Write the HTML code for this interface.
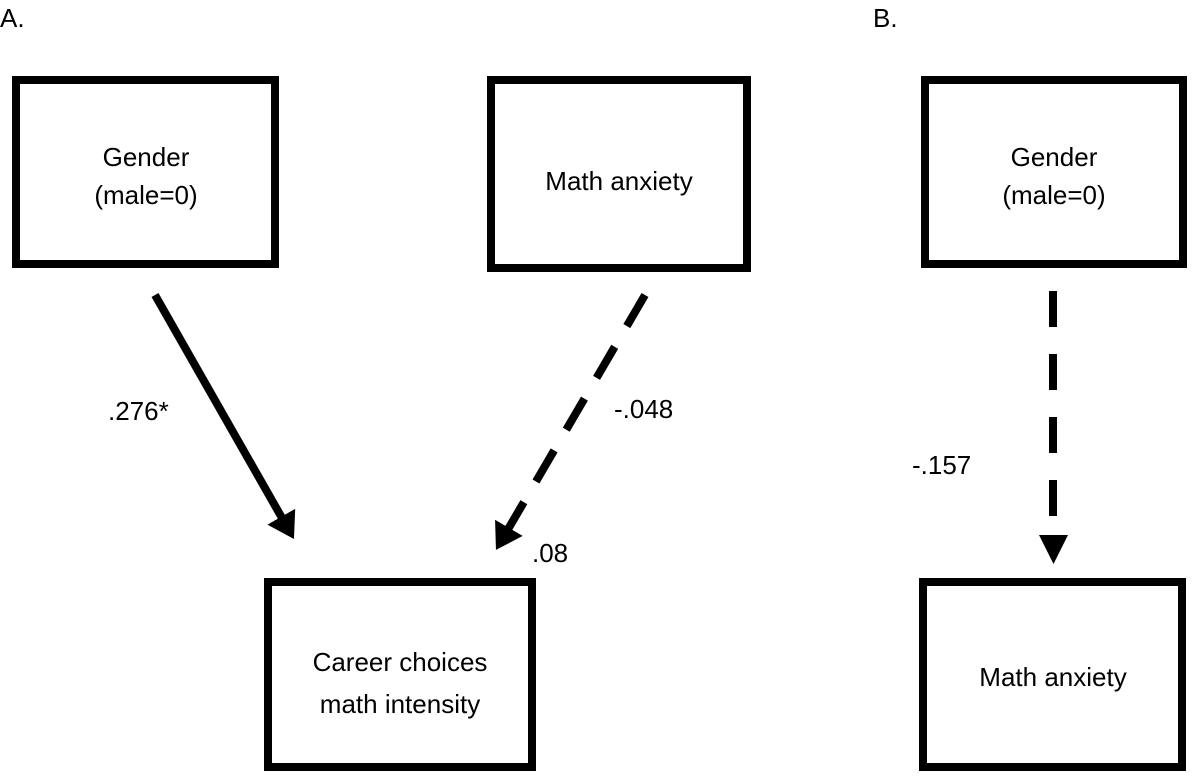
<!DOCTYPE html>
<html><head><style>
html,body{margin:0;padding:0;background:#fff;}
svg{display:block}
text{font-family:"Liberation Sans",sans-serif;font-size:26px;fill:#000}
</style></head><body>
<svg width="1200" height="782" viewBox="0 0 1200 782">
<defs>
<marker id="ah" markerWidth="5" markerHeight="5" refX="2.2" refY="2" orient="auto" markerUnits="strokeWidth">
<path d="M0,0 L3.2,2 L0,4 Z" fill="#000"/></marker>
</defs>
<g fill="none" stroke="#000" stroke-width="8">
<rect x="16" y="80" width="259" height="184"/>
<rect x="491" y="80" width="256" height="188"/>
<rect x="268" y="582" width="264" height="185"/>
<rect x="925" y="80" width="258" height="184"/>
<rect x="923" y="582" width="259" height="185"/>
</g>
<text x="0" y="27">A.</text>
<text x="873" y="27">B.</text>
<g text-anchor="middle">
<text x="146" y="166">Gender</text>
<text x="146" y="204">(male=0)</text>
<text x="619" y="190">Math anxiety</text>
<text x="400" y="671">Career choices</text>
<text x="400" y="713">math intensity</text>
<text x="1054" y="166">Gender</text>
<text x="1054" y="204">(male=0)</text>
<text x="1053" y="686">Math anxiety</text>
</g>
<text x="108" y="420">.276*</text>
<text x="614" y="418">-.048</text>
<text x="532" y="562">.08</text>
<text x="912" y="474">-.157</text>
<g stroke="#000" stroke-width="8" fill="none">
<line x1="155" y1="295" x2="290" y2="532" marker-end="url(#ah)"/>
<line x1="645" y1="295" x2="500" y2="543" stroke-dasharray="36,24" marker-end="url(#ah)"/>
<line x1="1053" y1="291" x2="1053" y2="520" stroke-dasharray="36,27"/>
</g>
<path d="M1039,535 L1068,535 L1053.5,564 Z" fill="#000"/>
</svg>
</body></html>
